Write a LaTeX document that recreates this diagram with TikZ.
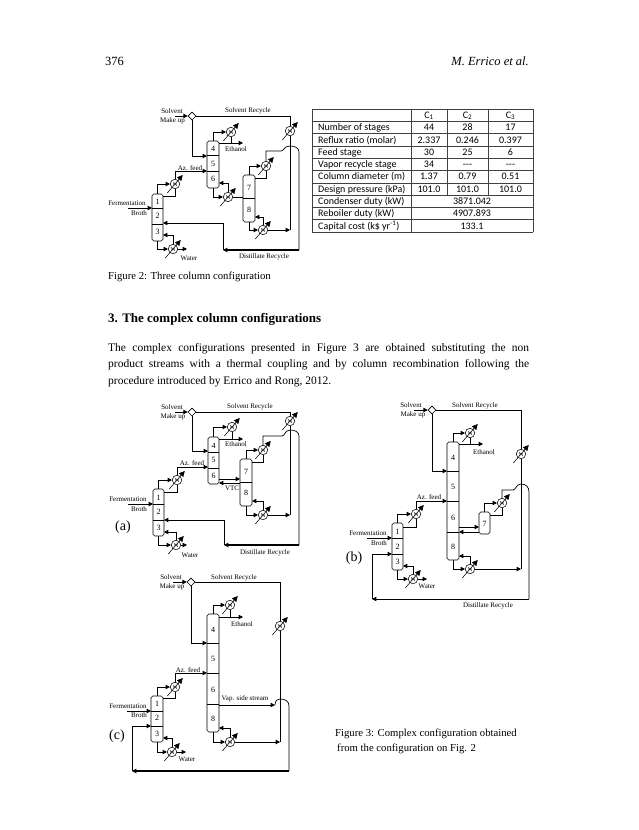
\documentclass[tikz,border=0pt]{standalone}
\usepackage{fontspec}
\setmainfont{Liberation Serif}
\newfontfamily\tabfont{Carlito}
\usetikzlibrary{arrows.meta,shapes.geometric}
\tikzset{
  flow/.style={line width=0.85pt,-{Triangle[length=4.4pt,width=4.4pt]}},
  pipe/.style={line width=0.7pt},
  thinl/.style={line width=0.5pt},
  colb/.style={draw,line width=0.55pt,fill=white,rounded corners=1.8pt,inner sep=0pt},
  hxc/.style={circle,draw,line width=0.55pt,fill=white,minimum size=9.5pt,inner sep=0pt},
  hxa/.style={line width=0.55pt,-{Triangle[length=5.5pt,width=5.5pt]}},
  mix/.style={diamond,draw,line width=0.55pt,fill=white,minimum size=8pt,inner sep=0pt},
  lbl/.style={inner sep=0pt,font=\fontsize{7}{8}\selectfont},
  num/.style={inner sep=0pt,font=\fontsize{8}{9}\selectfont},
  tag/.style={inner sep=0pt,font=\fontsize{14}{16}\selectfont},
  body/.style={inner sep=0pt,anchor=base west,font=\fontsize{11.5}{13}\selectfont},
  capt/.style={body,font=\fontsize{10.7}{13}\selectfont},
  tcell/.style={inner sep=0pt,anchor=base,font=\tabfont\fontsize{10}{11}\selectfont},
  tleft/.style={tcell,anchor=base west},
  grid/.style={line width=0.55pt,draw=black!75}
}
\newcommand{\colm}[5]{\pgfmathsetmacro\cw{#4-#2}\pgfmathsetmacro\ch{#5-#3}%
  \node[colb,minimum width=\cw pt,minimum height=\ch pt] (#1) at ({(#2+#4)/2},{(#3+#5)/2}) {};}
\newcommand{\dvs}[3]{\foreach \dy in {#3} {\draw[thinl] (#1,\dy) -- (#2,\dy);}}
\newcommand{\hx}[3]{\node[hxc] (#1) at (#2,#3) {};
  \draw[line width=0.4pt] (#2,#3) ++(-1.5,1.7) -- ++(0,-3.4) -- ++(3,3.4) -- ++(0,-3.4);
  \draw[hxa] (#2,#3) ++(-7.7,9) -- ++(15.4,-18);}
\newcommand{\trow}[5]{\pgfmathsetmacro\ry{109+(#1-0.5)*12.3+3.3}
  \node[tleft] (rl#1) at (318,\ry) {#2};
  \node[tcell] (ra#1) at (429,\ry) {#3};
  \node[tcell] (rb#1) at (467.5,\ry) {#4};
  \node[tcell] (rc#1) at (510.5,\ry) {#5};}
\begin{document}
\begin{tikzpicture}[x=1pt,y=-1pt]
\useasboundingbox[fill=white] (0,0) rectangle (638,830);

% page text
\node[body,font=\fontsize{12.5}{14}\selectfont] (pg) at (105,65) {376};
\node[inner sep=0pt,anchor=base east,font=\itshape\fontsize{12.5}{14}\selectfont] (au) at (529,65) {M. Errico et al.};
\node[capt] (cap2) at (108,279) {Figure 2: Three column configuration};
\node[body,font=\bfseries\fontsize{13}{15}\selectfont] (head) at (108,322) {3. The complex column configurations};
\node[body] (p1) at (108,351) {\makebox[421pt][s]{The complex configurations presented in Figure 3 are obtained substituting the non}};
\node[body] (p2) at (108,367) {\makebox[421pt][s]{product streams with a thermal coupling and by column recombination following the}};
\node[body] (p3) at (108,384) {procedure introduced by Errico and Rong, 2012.};
\node[capt] (cap3a) at (335,736) {Figure 3: Complex configuration obtained};
\node[capt] (cap3b) at (337,751) {from the configuration on Fig. 2};

% table
\foreach \i in {0,...,10} {\draw[grid] (312,{109+\i*12.3}) -- (533,{109+\i*12.3});}
\draw[grid] (312,109) -- (312,232); \draw[grid] (411,109) -- (411,232); \draw[grid] (533,109) -- (533,232);
\draw[grid] (447,109) -- (447,195.1); \draw[grid] (488,109) -- (488,195.1);
\trow{1}{}{C\textsubscript{1}}{C\textsubscript{2}}{C\textsubscript{3}}
\trow{2}{Number of stages}{44}{28}{17}
\trow{3}{Reflux ratio (molar)}{2.337}{0.246}{0.397}
\trow{4}{Feed stage}{30}{25}{6}
\trow{5}{Vapor recycle stage}{34}{-{}-{}-}{-{}-{}-}
\trow{6}{Column diameter (m)}{1.37}{0.79}{0.51}
\trow{7}{Design pressure (kPa)}{101.0}{101.0}{101.0}
\node[tleft] (rl8) at (318,204.55) {Condenser duty (kW)};
\node[tleft] (rl9) at (318,216.85) {Reboiler duty (kW)};
\node[tleft] (rl10) at (318,229.15) {Capital cost (k\$ yr\textsuperscript{-1})};
\node[tcell] (rv8) at (472,204.55) {3871.042};
\node[tcell] (rv9) at (472,216.85) {4907.893};
\node[tcell] (rv10) at (472,229.15) {133.1};

% ================= Figure 2 =================
\colm{tc1}{152}{194}{163}{241}\dvs{152}{163}{208,224}
\colm{tc2}{207}{141}{219}{188}\dvs{207}{219}{155,171}
\colm{tc3}{243}{175}{255}{222}\dvs{243}{255}{198}
\coordinate (tfa) at (128,208); \coordinate (tfb) at (152,208);
\coordinate (tma) at (175,116); \coordinate (tc1r) at (163,196); \coordinate (tc1f) at (207,171);
\coordinate (tc1b) at (163,235); \coordinate (tw) at (187,249);
\coordinate (tsf) at (207,156); \coordinate (tc2r) at (219,143); \coordinate (te) at (243,143);
\coordinate (tc2b) at (219,183); \coordinate (tc3f) at (243,197);
\coordinate (tc3r) at (255,178); \coordinate (tc3b) at (255,217); \coordinate (tsr) at (290,230);
\coordinate (th1) at (281,151); \coordinate (th2) at (299,152); \coordinate (tdc) at (299,250); \coordinate (tdl) at (223,250); \coordinate (tdr) at (163,223);
\hx{tx1}{175}{184}\hx{tr1}{173}{249}\hx{tx2}{231}{132}\hx{tr2}{228}{197}
\hx{tx3}{266}{166}\hx{tr3}{263}{230}\hx{ts}{290}{131}
\node[mix] (tm) at (192,116) {};
\draw[flow] (tfa) -- (tfb);
\draw[flow] (tma) -- (tm.west);
\draw[flow] (tm.south) |- (tsf);
\draw[pipe] (tm.east) -| (ts.north);
\draw[pipe] (ts.south) -- (tsr);
\draw[flow] (tc1.north) |- (tx1.west);
\draw[pipe] (tx1.south) |- (tc1r);
\draw[flow] (tx1.north) |- (tc1f);
\draw[flow] (tc1.south) |- (tr1.west);
\draw[flow] (tr1.north) |- (tc1b);
\draw[flow] (tr1.east) -- (tw);
\draw[flow] (tc2.north) |- (tx2.west);
\draw[pipe] (tx2.south) |- (tc2r);
\draw[flow] (tx2.south) |- (te);
\draw[flow] (tc2.south) |- (tr2.west);
\draw[flow] (tr2.north) |- (tc2b);
\draw[pipe] (tr2.east) -- (tc3f);
\draw[flow] (tc3.north) |- (tx3.west);
\draw[pipe] (tx3.south) |- (tc3r);
\draw[flow] (tc3.south) |- (tr3.west);
\draw[flow] (tr3.north) |- (tc3b);
\draw[flow] (tr3.east) -- (tsr);
\draw[pipe] (tx3.north) |- (th1) .. controls (284,151) and (284,146) .. (290,146) .. controls (295,146) and (299,148) .. (th2) -- (tdc);
\draw[flow,line width=1.1pt] (tdc) -- (tdl);
\draw[flow] (tdl) |- (tdr);
\node[lbl] (tl1) at (172,111) {Solvent}; \node[lbl] (tl2) at (172.5,121) {Make up};
\node[lbl] (tl3) at (248,111) {Solvent Recycle};
\node[lbl] (tl4) at (236,149) {Ethanol}; \node[lbl] (tl5) at (190,168) {Az. feed};
\node[lbl] (tl6) at (127,203) {Fermentation}; \node[lbl] (tl7) at (139,213) {Broth};
\node[lbl] (tl8) at (189,258) {Water}; \node[lbl] (tl9) at (264,257) {Distillate Recycle};
\node[num] (tn1) at (157.5,202) {1}; \node[num] (tn2) at (157.5,216) {2}; \node[num] (tn3) at (157.5,232) {3};
\node[num] (tn4) at (213,149) {4}; \node[num] (tn5) at (213,164) {5}; \node[num] (tn6) at (213,179) {6};
\node[num] (tn7) at (249,188) {7}; \node[num] (tn8) at (249,210) {8};

% ================= Figure 3a =================
\colm{ac1}{153}{489}{164}{536}\dvs{153}{164}{504,520}
\colm{ac2}{208}{437}{219}{484}\dvs{208}{219}{452,468}
\colm{ac3}{240}{459}{252}{506}\dvs{240}{252}{482}
\coordinate (afa) at (128,504); \coordinate (afb) at (153,504);
\coordinate (ama) at (175,412); \coordinate (ac1r) at (164,492); \coordinate (ac1f) at (208,467);
\coordinate (ac1b) at (164,532); \coordinate (aw) at (187,545);
\coordinate (asf) at (208,451); \coordinate (ac2r) at (219,439); \coordinate (ae) at (243,439);
\coordinate (av1a) at (219,479); \coordinate (av1b) at (240,479); \coordinate (av2a) at (240,483); \coordinate (av2b) at (219,483);
\coordinate (ac3r) at (252,462); \coordinate (ac3b) at (252,501); \coordinate (asr) at (290,515);
\coordinate (ah1) at (282,436); \coordinate (ah2) at (299,436); \coordinate (adc) at (299,545); \coordinate (adl) at (224,545); \coordinate (adr) at (164,520);
\hx{ax1}{177}{480}\hx{ar1}{176}{545}\hx{ax2}{232}{427}\hx{ax3}{263}{450}\hx{ar3}{263}{515}\hx{as}{290}{421}
\node[mix] (am) at (192,412) {};
\draw[flow] (afa) -- (afb);
\draw[flow] (ama) -- (am.west);
\draw[flow] (am.south) |- (asf);
\draw[pipe] (am.east) -| (as.north);
\draw[pipe] (as.south) -- (asr);
\draw[flow] (ac1.north) |- (ax1.west);
\draw[pipe] (ax1.south) |- (ac1r);
\draw[flow] (ax1.north) |- (ac1f);
\draw[flow] (ac1.south) |- (ar1.west);
\draw[flow] (ar1.north) |- (ac1b);
\draw[flow] (ar1.east) -- (aw);
\draw[flow] (ac2.north) |- (ax2.west);
\draw[pipe] (ax2.south) |- (ac2r);
\draw[flow] (ax2.south) |- (ae);
\draw[flow] (av1a) -- (av1b);
\draw[flow] (av2a) -- (av2b);
\draw[flow] (ac3.north) |- (ax3.west);
\draw[pipe] (ax3.south) |- (ac3r);
\draw[flow] (ac3.south) |- (ar3.west);
\draw[flow] (ar3.north) |- (ac3b);
\draw[flow] (ar3.east) -- (asr);
\draw[pipe] (ax3.north) |- (ah1) .. controls (285,436) and (285,430) .. (290,430) .. controls (295,430) and (299,432) .. (ah2) -- (adc);
\draw[flow,line width=1.1pt] (adc) -- (adl);
\draw[flow] (adl) |- (adr);
\node[lbl] (al1) at (172,407) {Solvent}; \node[lbl] (al2) at (173,416.5) {Make up};
\node[lbl] (al3) at (250,407) {Solvent Recycle};
\node[lbl] (al4) at (236,444) {Ethanol}; \node[lbl] (al5) at (192,463) {Az. feed};
\node[lbl] (al6) at (128,499) {Fermentation}; \node[lbl] (al7) at (139,509) {Broth};
\node[lbl] (al8) at (190,555) {Water}; \node[lbl] (al9) at (265,553) {Distillate Recycle};
\node[lbl] (al10) at (232,488) {VTC};
\node[num] (an1) at (158.5,498) {1}; \node[num] (an2) at (158.5,512) {2}; \node[num] (an3) at (158.5,528) {3};
\node[num] (an4) at (213.5,446) {4}; \node[num] (an5) at (213.5,460) {5}; \node[num] (an6) at (213.5,476) {6};
\node[num] (an7) at (246,472) {7}; \node[num] (an8) at (246,493) {8};
\node[tag] (atag) at (123,527) {(a)};

% ================= Figure 3b =================
\colm{bc1}{392}{523}{403}{570}\dvs{392}{403}{538,554}
\colm{bc2}{447}{442}{459}{560}\dvs{447}{459}{471,501,532}
\colm{bc3}{479}{512}{490}{534}
\coordinate (bfa) at (367,538); \coordinate (bfb) at (392,538);
\coordinate (bma) at (414,410); \coordinate (bc1r) at (403,527); \coordinate (bc1f) at (447,501);
\coordinate (bc1b) at (403,566); \coordinate (bw) at (427,579);
\coordinate (bsf) at (447,471); \coordinate (bc2r) at (459,444); \coordinate (be) at (483,444);
\coordinate (bv1a) at (459,527); \coordinate (bv1b) at (479,527); \coordinate (bv2a) at (479,532); \coordinate (bv2b) at (459,532);
\coordinate (bc3r) at (490,515); \coordinate (bc2b) at (459,556); \coordinate (bsr) at (521,569);
\coordinate (bh1) at (513,490); \coordinate (bh2) at (529,492); \coordinate (bdc) at (529,599); \coordinate (bdl) at (372,599); \coordinate (bdr) at (392,554);
\hx{bx1}{416}{514}\hx{br1}{413}{579}\hx{bx2}{470}{433}\hx{br2}{470}{569}\hx{bx3}{502}{503}\hx{bs}{521}{454}
\node[mix] (bm) at (432,410) {};
\draw[flow] (bfa) -- (bfb);
\draw[flow] (bma) -- (bm.west);
\draw[flow] (bm.south) |- (bsf);
\draw[pipe] (bm.east) -| (bs.north);
\draw[pipe] (bs.south) -- (bsr);
\draw[flow] (bc1.north) |- (bx1.west);
\draw[pipe] (bx1.south) |- (bc1r);
\draw[flow] (bx1.north) |- (bc1f);
\draw[flow] (bc1.south) |- (br1.west);
\draw[flow] (br1.north) |- (bc1b);
\draw[flow] (br1.east) -- (bw);
\draw[flow] (bc2.north) |- (bx2.west);
\draw[pipe] (bx2.south) |- (bc2r);
\draw[flow] (bx2.south) |- (be);
\draw[flow] (bc2.south) |- (br2.west);
\draw[flow] (br2.north) |- (bc2b);
\draw[flow] (br2.east) -- (bsr);
\draw[flow] (bv1a) -- (bv1b);
\draw[flow] (bv2a) -- (bv2b);
\draw[flow] (bc3.north) |- (bx3.west);
\draw[pipe] (bx3.south) |- (bc3r);
\draw[pipe] (bx3.north) |- (bh1) .. controls (516,490) and (516,484) .. (521,484) .. controls (526,484) and (529,487) .. (bh2) -- (bdc);
\draw[flow] (bdc) -- (bdl);
\draw[flow] (bdl) |- (bdr);
\node[lbl] (bl1) at (411,405.5) {Solvent}; \node[lbl] (bl2) at (413,415) {Make up};
\node[lbl] (bl3) at (475,406) {Solvent Recycle};
\node[lbl] (bl4) at (484,452) {Ethanol}; \node[lbl] (bl5) at (429,497) {Az. feed};
\node[lbl] (bl6) at (368,533) {Fermentation}; \node[lbl] (bl7) at (379,543) {Broth};
\node[lbl] (bl8) at (427,586) {Water}; \node[lbl] (bl9) at (488,606) {Distillate Recycle};
\node[num] (bn1) at (397.5,532) {1}; \node[num] (bn2) at (397.5,547) {2}; \node[num] (bn3) at (397.5,562) {3};
\node[num] (bn4) at (453,458) {4}; \node[num] (bn5) at (453,487) {5}; \node[num] (bn6) at (453,518) {6}; \node[num] (bn8) at (453,547) {8};
\node[num] (bn7) at (484.5,524) {7};
\node[tag] (btag) at (354,558) {(b)};

% ================= Figure 3c =================
\colm{cc1}{151}{696}{163}{742}\dvs{151}{163}{711,726}
\colm{cc2}{207}{614}{219}{732}\dvs{207}{219}{643,673,704}
\coordinate (cfa) at (127,711); \coordinate (cfb) at (151,711);
\coordinate (cma) at (173,582); \coordinate (cc1r) at (163,698); \coordinate (cc1f) at (207,673);
\coordinate (cc1b) at (163,738); \coordinate (cw) at (186,752);
\coordinate (csf) at (207,643); \coordinate (cc2r) at (219,617); \coordinate (ce) at (243,617);
\coordinate (cvs) at (219,705); \coordinate (cve) at (275,705);
\coordinate (cc2b) at (219,728); \coordinate (csr) at (280,742);
\coordinate (cdt) at (289,706); \coordinate (cdc) at (289,771); \coordinate (cdl) at (132,771); \coordinate (cdr) at (151,726);
\hx{cx1}{175}{687}\hx{cr1}{172}{752}\hx{cx2}{230}{605}\hx{cr2}{230}{742}\hx{cs}{280}{626}
\node[mix] (cm) at (191,582) {};
\draw[flow] (cfa) -- (cfb);
\draw[flow] (cma) -- (cm.west);
\draw[flow] (cm.south) |- (csf);
\draw[pipe] (cm.east) -| (cs.north);
\draw[pipe] (cs.south) -- (csr);
\draw[flow] (cc1.north) |- (cx1.west);
\draw[pipe] (cx1.south) |- (cc1r);
\draw[flow] (cx1.north) |- (cc1f);
\draw[flow] (cc1.south) |- (cr1.west);
\draw[flow] (cr1.north) |- (cc1b);
\draw[flow] (cr1.east) -- (cw);
\draw[flow] (cc2.north) |- (cx2.west);
\draw[pipe] (cx2.south) |- (cc2r);
\draw[flow] (cx2.south) |- (ce);
\draw[flow] (cc2.south) |- (cr2.west);
\draw[flow] (cr2.north) |- (cc2b);
\draw[flow] (cr2.east) -- (csr);
\draw[flow] (cvs) -- (cve);
\draw[pipe] (cve) .. controls (275,700) and (278,699) .. (280,699) .. controls (285,699) and (289,701) .. (cdt) -- (cdc);
\draw[flow,line width=1.1pt] (cdc) -- (cdl);
\draw[flow] (cdl) |- (cdr);
\node[lbl] (cl1) at (171,577.5) {Solvent}; \node[lbl] (cl2) at (172,587) {Make up};
\node[lbl] (cl3) at (234,578) {Solvent Recycle};
\node[lbl] (cl4) at (242,624) {Ethanol}; \node[lbl] (cl5) at (188,670) {Az. feed};
\node[lbl] (cl6) at (128,706) {Fermentation}; \node[lbl] (cl7) at (139,715) {Broth};
\node[lbl] (cl8) at (187,759) {Water}; \node[lbl] (cl9) at (245,699) {Vap. side stream};
\node[num] (cn1) at (157,704) {1}; \node[num] (cn2) at (157,718) {2}; \node[num] (cn3) at (157,734) {3};
\node[num] (cn4) at (213,630) {4}; \node[num] (cn5) at (213,659) {5}; \node[num] (cn6) at (213,690) {6}; \node[num] (cn8) at (213,719) {8};
\node[tag] (ctag) at (117,736) {(c)};
\end{tikzpicture}
\end{document}
